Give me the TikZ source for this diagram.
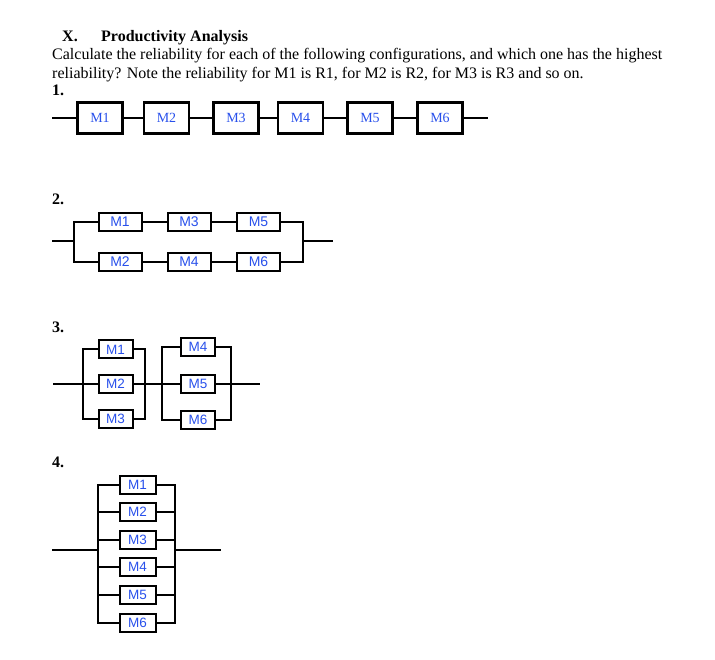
\documentclass[tikz,border=0pt]{standalone}
\usepackage{fontspec}
\setmainfont{Liberation Serif}
\newfontfamily\sansf{Liberation Sans}
\definecolor{mblue}{RGB}{40,80,235}
\begin{document}
\begin{tikzpicture}[x=1pt,y=-1pt,
  boxA/.style={draw, line width=2.3pt, minimum width=45pt, minimum height=31pt, inner sep=0pt, text=mblue, font=\fontsize{14}{14}\selectfont},
  boxB/.style={draw, line width=2pt, minimum width=43pt, minimum height=18pt, inner sep=0pt, text=mblue, font=\sansf\fontsize{14}{14}\selectfont},
  boxC/.style={draw, line width=2pt, minimum width=34pt, minimum height=18pt, inner sep=0pt, text=mblue, font=\sansf\fontsize{13.5}{13.5}\selectfont},
  boxD/.style={draw, line width=2pt, minimum width=36pt, minimum height=18pt, inner sep=0pt, text=mblue, font=\sansf\fontsize{13.5}{13.5}\selectfont},
  wire/.style={line width=2pt},
  txt/.style={anchor=base west, inner sep=0pt, font=\fontsize{16}{16}\selectfont},
  btxt/.style={txt, font=\fontsize{16}{16}\selectfont\bfseries}]
\useasboundingbox (0,0) rectangle (715,660);

% header text
\node[btxt] (tx) at (62,42) {X.};
\node[btxt] (tt) at (101,42) {Productivity Analysis};
\node[txt] (p1) at (52,60) {Calculate the reliability for each of the following configurations, and which one has the highest};
\node[txt] (p2) at (52,78.5) {reliability? Note the reliability for M1 is R1, for M2 is R2, for M3 is R3 and so on.};
\node[btxt] (n1) at (52,96) {1.};
\node[btxt] (n2) at (52,205) {2.};
\node[btxt] (n3) at (52,333) {3.};
\node[btxt] (n4) at (52,467) {4.};

% diagram 1
\coordinate (s1) at (52,118);
\coordinate (e1) at (488,118);
\node[boxA] (a1) at (100,118) {M1};
\node[boxA] (a2) at (166.5,118) {M2};
\node[boxA] (a3) at (236,118) {M3};
\node[boxA] (a4) at (300.5,118) {M4};
\node[boxA] (a5) at (370,118) {M5};
\node[boxA] (a6) at (440,118) {M6};
\draw[wire] (s1) -- (a1.west);
\draw[wire] (a1.east) -- (a2.west);
\draw[wire] (a2.east) -- (a3.west);
\draw[wire] (a3.east) -- (a4.west);
\draw[wire] (a4.east) -- (a5.west);
\draw[wire] (a5.east) -- (a6.west);
\draw[wire] (a6.east) -- (e1);

% diagram 2
\coordinate (s2) at (52,241.5);
\coordinate (j2l) at (74,241.5);
\coordinate (j2r) at (303,241.5);
\coordinate (e2) at (333,241.5);
\node[boxB] (b1) at (120,222) {M1};
\node[boxB] (b3) at (189,222) {M3};
\node[boxB] (b5) at (258.5,222) {M5};
\node[boxB] (b2) at (120,262) {M2};
\node[boxB] (b4) at (189,262) {M4};
\node[boxB] (b6) at (258.5,262) {M6};
\draw[wire] (s2) -- (j2l);
\draw[wire] (b1.west) -| (j2l) |- (b2.west);
\draw[wire] (b1.east) -- (b3.west);
\draw[wire] (b3.east) -- (b5.west);
\draw[wire] (b2.east) -- (b4.west);
\draw[wire] (b4.east) -- (b6.west);
\draw[wire] (b5.east) -| (j2r) |- (b6.east);
\draw[wire] (j2r) -- (e2);

% diagram 3
\coordinate (s3) at (53,384);
\coordinate (j3a) at (83,384);
\coordinate (j3b) at (145,384);
\coordinate (j3c) at (162,384);
\coordinate (j3d) at (231,384);
\coordinate (e3) at (260,384);
\node[boxC] (c1) at (115.5,349.5) {M1};
\node[boxC] (c2) at (115.5,384) {M2};
\node[boxC] (c3) at (115.5,418.5) {M3};
\node[boxC] (c4) at (198,347) {M4};
\node[boxC] (c5) at (198,384) {M5};
\node[boxC] (c6) at (198,419.5) {M6};
\draw[wire] (s3) -- (j3a);
\draw[wire] (c1.west) -| (j3a) |- (c3.west);
\draw[wire] (j3a) -- (c2.west);
\draw[wire] (c1.east) -| (j3b) |- (c3.east);
\draw[wire] (c2.east) -- (j3b);
\draw[wire] (j3b) -- (j3c);
\draw[wire] (c4.west) -| (j3c) |- (c6.west);
\draw[wire] (j3c) -- (c5.west);
\draw[wire] (c4.east) -| (j3d) |- (c6.east);
\draw[wire] (c5.east) -- (j3d);
\draw[wire] (j3d) -- (e3);

% diagram 4
\coordinate (s4) at (52,550);
\coordinate (j4l) at (98,550);
\coordinate (j4r) at (175,550);
\coordinate (e4) at (221,550);
\node[boxD] (d1) at (137.5,484.5) {M1};
\node[boxD] (d2) at (137.5,512) {M2};
\node[boxD] (d3) at (137.5,540) {M3};
\node[boxD] (d4) at (137.5,567) {M4};
\node[boxD] (d5) at (137.5,594.5) {M5};
\node[boxD] (d6) at (137.5,623) {M6};
\draw[wire] (s4) -- (j4l);
\draw[wire] (d1.west) -| (j4l) |- (d6.west);
\draw[wire] (d2.west) -- (d2.west -| j4l);
\draw[wire] (d3.west) -- (d3.west -| j4l);
\draw[wire] (d4.west) -- (d4.west -| j4l);
\draw[wire] (d5.west) -- (d5.west -| j4l);
\draw[wire] (d1.east) -| (j4r) |- (d6.east);
\draw[wire] (d2.east) -- (d2.east -| j4r);
\draw[wire] (d3.east) -- (d3.east -| j4r);
\draw[wire] (d4.east) -- (d4.east -| j4r);
\draw[wire] (d5.east) -- (d5.east -| j4r);
\draw[wire] (j4r) -- (e4);
\end{tikzpicture}
\end{document}
